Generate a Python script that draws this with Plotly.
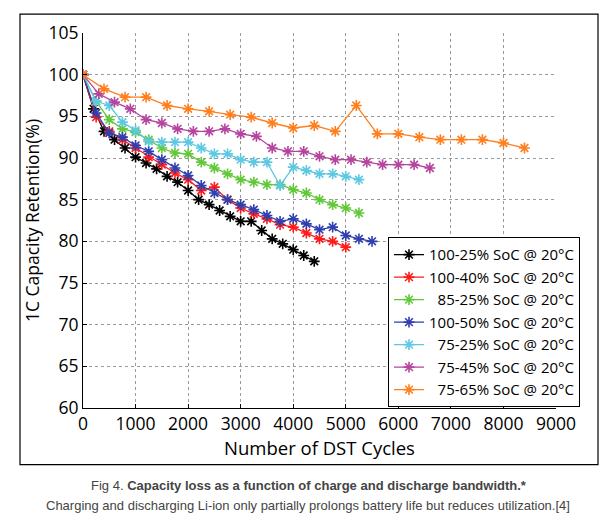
import plotly.graph_objects as go

# ---- data ----
x_100_25 = [0, 200, 400, 600, 800, 1000, 1200, 1400, 1600, 1800, 2000, 2200, 2400, 2600, 2800, 3000, 3200, 3400, 3600, 3800, 4000, 4200, 4400]
y_100_25 = [100, 95.9, 93.2, 92.2, 91.2, 90.1, 89.4, 88.7, 87.8, 87.1, 86.1, 85.0, 84.4, 83.7, 83.0, 82.4, 82.4, 81.3, 80.3, 79.7, 79.0, 78.3, 77.6]

x_100_40 = [0, 250, 500, 750, 1000, 1250, 1500, 1750, 2000, 2250, 2500, 2750, 3000, 3250, 3500, 3750, 4000, 4250, 4500, 4750, 5000]
y_100_40 = [100, 94.9, 93.2, 92.2, 91.2, 90.1, 89.2, 88.2, 87.4, 86.1, 86.5, 85.0, 84.0, 83.3, 82.7, 82.0, 81.7, 81.0, 80.3, 80.0, 79.3]

x_85_25 = [0, 250, 500, 750, 1000, 1250, 1500, 1750, 2000, 2250, 2500, 2750, 3000, 3250, 3500, 3750, 4000, 4250, 4500, 4750, 5000, 5250]
y_85_25 = [100, 96.8, 94.6, 93.5, 93.1, 92.2, 91.2, 90.6, 90.5, 89.5, 88.8, 88.1, 87.4, 87.1, 86.8, 86.8, 86.2, 85.8, 85.0, 84.4, 84.0, 83.4]

x_100_50 = [0, 250, 500, 750, 1000, 1250, 1500, 1750, 2000, 2250, 2500, 2750, 3000, 3250, 3500, 3750, 4000, 4250, 4500, 4750, 5000, 5250, 5500]
y_100_50 = [100, 95.4, 93.0, 92.5, 91.5, 90.8, 89.8, 88.8, 87.9, 86.7, 85.8, 85.0, 84.4, 83.8, 83.1, 82.4, 82.7, 82.1, 81.4, 81.7, 80.7, 80.3, 80.0]

x_75_25 = [0, 250, 500, 750, 1000, 1250, 1500, 1750, 2000, 2250, 2500, 2750, 3000, 3250, 3500, 3750, 4000, 4250, 4500, 4750, 5000, 5250]
y_75_25 = [100, 96.8, 96.3, 94.3, 93.3, 92.0, 91.9, 91.9, 91.9, 91.2, 90.5, 90.5, 89.8, 89.5, 89.5, 86.7, 88.9, 88.5, 88.1, 88.1, 87.8, 87.4]

x_75_45 = [0, 300, 600, 900, 1200, 1500, 1800, 2100, 2400, 2700, 3000, 3300, 3600, 3900, 4200, 4500, 4800, 5100, 5400, 5700, 6000, 6300, 6600]
y_75_45 = [100, 97.7, 96.7, 95.9, 94.6, 94.2, 93.5, 93.2, 93.2, 93.5, 92.9, 92.6, 91.2, 90.8, 90.8, 90.2, 89.8, 89.8, 89.5, 89.2, 89.2, 89.2, 88.8]

x_75_65 = [0, 400, 800, 1200, 1600, 2000, 2400, 2800, 3200, 3600, 4000, 4400, 4800, 5200, 5600, 6000, 6400, 6800, 7200, 7600, 8000, 8400]
y_75_65 = [100, 98.3, 97.3, 97.3, 96.3, 95.9, 95.6, 95.2, 94.9, 94.2, 93.6, 93.9, 93.2, 96.3, 92.9, 92.9, 92.5, 92.2, 92.2, 92.2, 91.8, 91.2]

names = ["100-25% SoC @ 20°C", "100-40% SoC @ 20°C", "\u200785-25% SoC @ 20°C",
         "100-50% SoC @ 20°C", "\u200775-25% SoC @ 20°C", "\u200775-45% SoC @ 20°C",
         "\u200775-65% SoC @ 20°C"]
colors = ["#000000", "#ff1a1a", "#62c83a", "#2f3fae", "#5cc8e2", "#b4449e", "#ff7f1e"]
xs = [x_100_25, x_100_40, x_85_25, x_100_50, x_75_25, x_75_45, x_75_65]
ys = [y_100_25, y_100_40, y_85_25, y_100_50, y_75_25, y_75_45, y_75_65]

x_ticks = [0, 1000, 2000, 3000, 4000, 5000, 6000, 7000, 8000, 9000]
y_ticks = [60, 65, 70, 75, 80, 85, 90, 95, 100, 105]

fig = go.Figure()
for x, y, n, c in zip(xs, ys, names, colors):
    fig.add_trace(go.Scatter(
        x=x, y=y, name=n, mode="lines+markers",
        line=dict(color=c, width=1.3),
        marker=dict(symbol="asterisk-open", size=9, line=dict(color=c, width=1.6)),
    ))

W, H = 608, 522
L, R, T, B = 75, 60, 22, 122
pw, ph = W - L - R, H - T - B

def px(xp):
    return (xp - L) / pw

def py(yp):
    return (H - B - yp) / ph

font_main = "Open Sans, Noto Sans, DejaVu Sans, sans-serif"

fig.update_layout(
    width=W, height=H,
    margin=dict(l=L, r=R, t=T, b=B),
    paper_bgcolor="white", plot_bgcolor="white",
    font=dict(family=font_main, color="black"),
    showlegend=True,
    legend=dict(
        x=px(572), xanchor="right", y=py(228), yanchor="top",
        bgcolor="white", bordercolor="black", borderwidth=1,
        font=dict(size=15, family=font_main, color="black"),
        tracegroupgap=0, itemwidth=30,
    ),
    xaxis=dict(
        range=[0, 9000], tickvals=x_ticks, ticktext=[str(v) for v in x_ticks],
        showgrid=True, gridcolor="#9a9a9a", griddash="dot", gridwidth=1,
        showline=True, linecolor="black", linewidth=1,
        ticks="inside", ticklen=4, tickcolor="black",
        tickfont=dict(size=17.5, family=font_main),
        title=dict(text="Number of DST Cycles", font=dict(size=18.5, family=font_main), standoff=6),
        zeroline=False, mirror=False,
    ),
    yaxis=dict(
        range=[60, 105], tickvals=y_ticks, ticktext=[str(v) for v in y_ticks],
        showgrid=True, gridcolor="#9a9a9a", griddash="dot", gridwidth=1,
        showline=True, linecolor="black", linewidth=1,
        ticks="inside", ticklen=4, tickcolor="black",
        tickfont=dict(size=17.5, family=font_main),
        title=dict(text="1C Capacity Retention(%)", font=dict(size=17.5, family=font_main), standoff=4),
        zeroline=False, mirror=False,
    ),
)

# outer figure frame
fig.add_shape(type="rect", xref="paper", yref="paper",
              x0=px(12), x1=px(590), y0=py(457), y1=py(3),
              line=dict(color="black", width=1.2), fillcolor="rgba(0,0,0,0)", layer="below")

cap_font = "Liberation Sans, Arial, sans-serif"
fig.add_annotation(xref="paper", yref="paper", x=px(301), y=py(478), xanchor="center", yanchor="middle",
                   showarrow=False,
                   text="Fig 4. <b>Capacity loss as a function of charge and discharge bandwidth.*</b>",
                   font=dict(size=13, family=cap_font, color="#444444"))
fig.add_annotation(xref="paper", yref="paper", x=px(300), y=py(498), xanchor="center", yanchor="middle",
                   showarrow=False,
                   text="Charging and discharging Li-ion only partially prolongs battery life but reduces utilization.[4]",
                   font=dict(size=13, family=cap_font, color="#444444"))

fig.write_html("out.html")
